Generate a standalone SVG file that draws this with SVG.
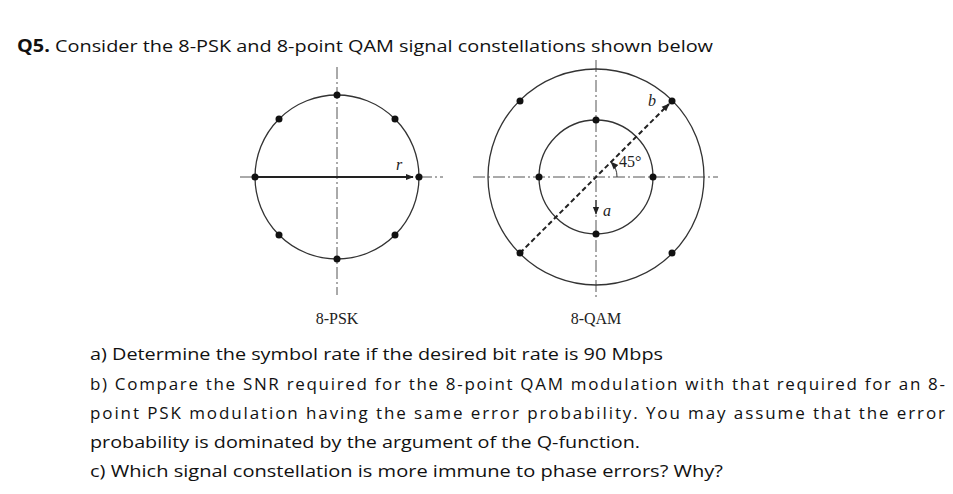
<svg xmlns="http://www.w3.org/2000/svg" width="953" height="494" viewBox="0 0 953 494">
<defs>
<style>
.t{font-family:"Open Sans","Liberation Sans",sans-serif;font-size:17px;fill:#111}
.m{font-family:"Liberation Serif","Times New Roman",serif;font-size:16px;fill:#222}
.i{font-style:italic}
.c{fill:none;stroke:#333;stroke-width:1.3}
.ax{stroke:#555;stroke-width:1;stroke-dasharray:12 3 2 3;fill:none}
.d{fill:#111}
</style>
<marker id="ah" viewBox="0 0 10 10" refX="9" refY="5" markerWidth="8" markerHeight="8" markerUnits="userSpaceOnUse" orient="auto"><path d="M0,1 L10,5 L0,9 Z" fill="#222"/></marker>
</defs>
<rect width="953" height="494" fill="#fff"/>
<text class="t" x="17" y="52" textLength="696" lengthAdjust="spacingAndGlyphs"><tspan font-weight="bold">Q5.</tspan> Consider the 8-PSK and 8-point QAM signal constellations shown below</text>
<g id="psk">
<line class="ax" x1="337" y1="67" x2="337" y2="295"/>
<line class="ax" x1="240" y1="177" x2="443" y2="177"/>
<circle class="c" cx="337" cy="177" r="82"/>
<line x1="255" y1="177" x2="413" y2="177" stroke="#222" stroke-width="2" marker-end="url(#ah)"/>
<text class="m i" x="396" y="170">r</text>
<g class="d"><circle cx="419" cy="177" r="3.5"/><circle cx="255" cy="177" r="3.5"/><circle cx="337" cy="95" r="3.5"/><circle cx="337" cy="259" r="3.5"/><circle cx="279" cy="119" r="3.5"/><circle cx="395" cy="119" r="3.5"/><circle cx="279" cy="235" r="3.5"/><circle cx="395" cy="235" r="3.5"/></g>
<text class="m" x="337" y="324" text-anchor="middle">8-PSK</text>
</g>
<g id="qam">
<line class="ax" x1="596" y1="60" x2="596" y2="300"/>
<line class="ax" x1="473" y1="177" x2="718" y2="177"/>
<circle class="c" cx="596" cy="177" r="57"/>
<circle class="c" cx="596" cy="177" r="108"/>
<line x1="520" y1="253" x2="669" y2="104" stroke="#222" stroke-width="2" stroke-dasharray="5 3" marker-end="url(#ah)"/>
<path d="M617,177 A21,21 0 0 0 611,162" fill="none" stroke="#333" stroke-width="1" marker-end="url(#ah)"/>
<text class="m" x="619" y="167">45°</text>
<line x1="596" y1="200" x2="596" y2="214" stroke="#222" stroke-width="1" marker-end="url(#ah)"/>
<text class="m i" x="603" y="216">a</text>
<text class="m i" x="648" y="106">b</text>
<g class="d"><circle cx="539" cy="177" r="3.5"/><circle cx="653" cy="177" r="3.5"/><circle cx="596" cy="120" r="3.5"/><circle cx="596" cy="234" r="3.5"/><circle cx="520" cy="101" r="3.5"/><circle cx="672" cy="101" r="3.5"/><circle cx="520" cy="253" r="3.5"/><circle cx="672" cy="253" r="3.5"/></g>
<text class="m" x="596" y="324" text-anchor="middle">8-QAM</text>
</g>
<text class="t" x="90" y="360" textLength="573" lengthAdjust="spacingAndGlyphs">a) Determine the symbol rate if the desired bit rate is 90 Mbps</text>
<text class="t" x="90" y="390" textLength="855" lengthAdjust="spacing">b) Compare the SNR required for the 8-point QAM modulation with that required for an 8-</text>
<text class="t" x="90" y="419" textLength="855" lengthAdjust="spacing">point PSK modulation having the same error probability. You may assume that the error</text>
<text class="t" x="90" y="448" textLength="550" lengthAdjust="spacingAndGlyphs">probability is dominated by the argument of the Q-function.</text>
<text class="t" x="90" y="477" textLength="633" lengthAdjust="spacingAndGlyphs">c) Which signal constellation is more immune to phase errors? Why?</text>
</svg>
